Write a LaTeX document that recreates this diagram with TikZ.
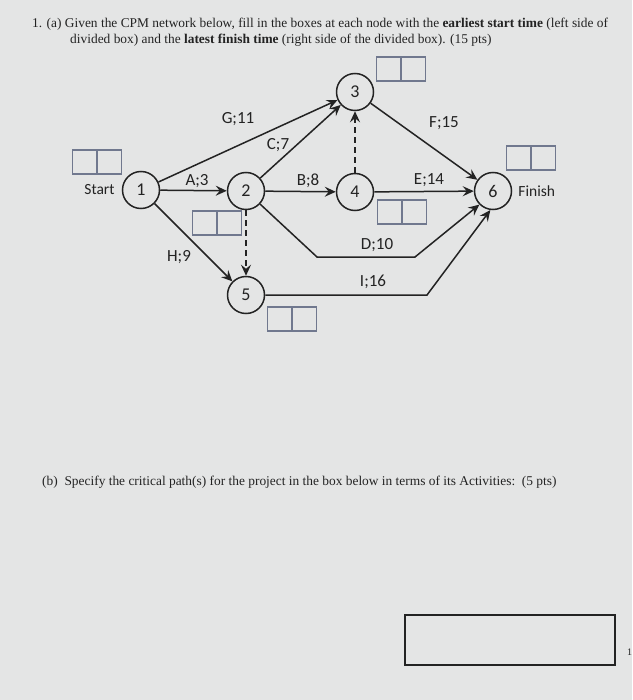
\documentclass[tikz,border=0pt]{standalone}
\usepackage{fontspec}
\setmainfont{Liberation Serif}
\newfontfamily\labelfont{Carlito}
\usetikzlibrary{arrows.meta,positioning}

\definecolor{boxgray}{RGB}{112,120,142}
\definecolor{paper}{RGB}{228,229,229}
\definecolor{ink}{RGB}{35,35,35}

\begin{document}
\begin{tikzpicture}[x=1pt, y=-1pt, align=left, color=ink]
    \tikzset{
        event/.style      =   { circle
                              , draw=ink
                              , line width=1.5pt
                              , minimum size=37pt
                              , inner sep=0pt
                              , font=\labelfont\fontsize{18}{18}\selectfont
        }
        , timebox/.style  =   { rectangle
                              , draw=boxgray
                              , line width=1.1pt
                              , minimum width=49pt
                              , minimum height=24pt
                              , path picture={\draw[boxgray, line width=1.1pt]
                                    (path picture bounding box.north) -- (path picture bounding box.south);}
        }
        , act/.style      =   { inner sep=0pt
                              , font=\labelfont\fontsize{17}{17}\selectfont
        }
        , side/.style     =   { inner sep=0pt
                              , font=\labelfont\fontsize{15.5}{15.5}\selectfont
        }
        , arrow/.style    =   { line width=1.5pt
                              , draw=ink
                              , -{Stealth[length=11pt, width=10pt, inset=4pt]}
        }
        , dummy/.style    =   { arrow
                              , dash pattern=on 6pt off 4pt
        }
        , question/.style =   { inner sep=0pt
                              , anchor=base west
                              , font=\fontsize{13.4}{15}\selectfont
        }
    }
    \useasboundingbox[fill=paper] (0,0) rectangle (632,700);

    % question text
    \node(q1)[question] at (32,28) {1. (a) Given the CPM network below, fill in the boxes at each node with the \textbf{earliest start time} (left side of};
    \node(q2)[question] at (70,44) {divided box) and the \textbf{latest finish time} (right side of the divided box). (15 pts)};

    % events
    \node(n1)[event] at (141,190) {1};
    \node(n2)[event] at (246,191) {2};
    \node(n3)[event] at (355,92)  {3};
    \node(n4)[event] at (355,192) {4};
    \node(n5)[event] at (246,295) {5};
    \node(n6)[event] at (493,191) {6};
    \node(start)[side, left=7pt of n1]   {Start};
    \node(finish)[side, right=6pt of n6] {Finish};

    % divided boxes
    \node(b1)[timebox] at (97,162)  {};
    \node(b2)[timebox] at (217,223) {};
    \node(b3)[timebox] at (401,69)  {};
    \node(b4)[timebox] at (402,212) {};
    \node(b5)[timebox] at (292,319) {};
    \node(b6)[timebox] at (531,158) {};

    % activities
    \coordinate(d1) at (317,257);
    \coordinate(d2) at (415,257);
    \coordinate(i1) at (427,292);

    \draw[arrow]  (n1) -- (n3);
    \draw[arrow]  (n1) -- (n2);
    \draw[arrow]  (n1) -- (n5);
    \draw[arrow]  (n2) -- (n3);
    \draw[arrow]  (n2) -- (n4);
    \draw[arrow]  (n3) -- (n6);
    \draw[arrow]  (n4) -- (n6);
    \draw[arrow]  (n2) -- (d1) -- (d2) -- (n6.-135);
    \draw[arrow]  (n5) -- (n5.east -| i1) -- (n6.-98);
    \draw[dummy]  (n4) -- (n3);
    \draw[dummy]  (n2) -- (n5);

    \node(g)[act] at (238,119) {G;11};
    \node(c)[act] at (278,145) {C;7};
    \node(a)[act] at (197,181) {A;3};
    \node(b)[act] at (308,181) {B;8};
    \node(h)[act] at (179,257) {H;9};
    \node(f)[act] at (444,123) {F;15};
    \node(e)[act] at (429,180) {E;14};
    \node(d)[act] at (377,245) {D;10};
    \node(i)[act] at (373,282) {I;16};

    % part (b)
    \node(q3)[question] at (42,485) {(b)\enspace Specify the critical path(s) for the project in the box below in terms of its Activities:\enspace(5 pts)};
    \node(answer)[draw=ink, line width=1.3pt, minimum width=210pt, minimum height=50pt] at (510,640) {};
    \node(page)[question, font=\fontsize{10}{10}\selectfont] at (627,655) {1};
\end{tikzpicture}
\end{document}
